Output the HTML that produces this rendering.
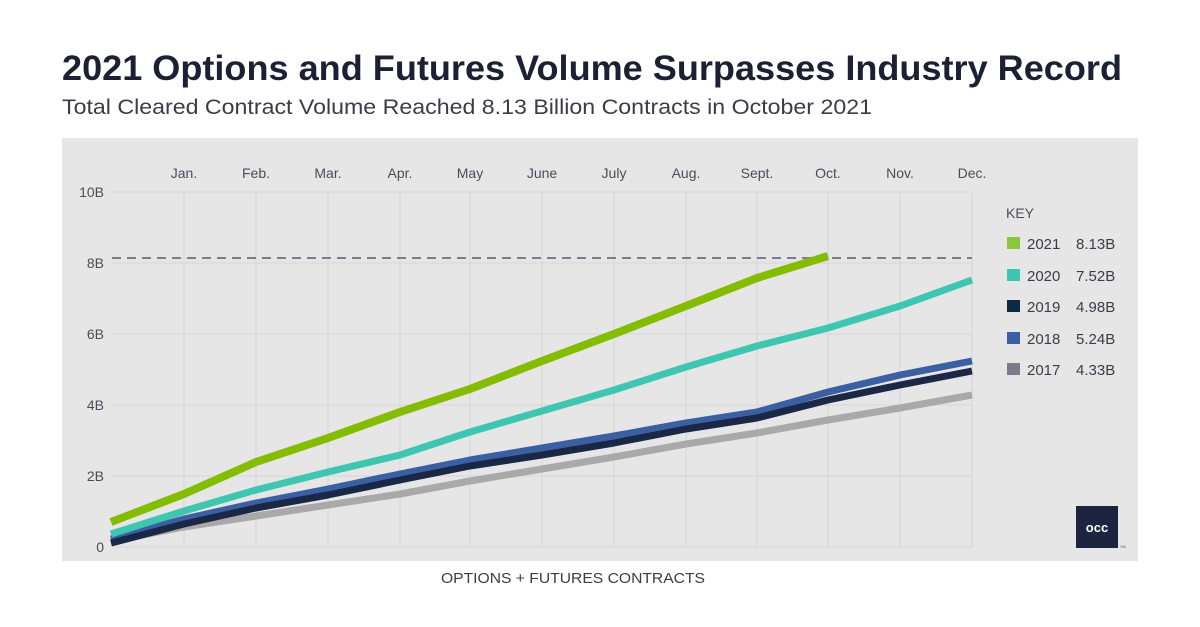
<!DOCTYPE html>
<html><head><meta charset="utf-8"><style>
html,body{margin:0;padding:0;background:#fff;width:1200px;height:627px;overflow:hidden}
svg{display:block}
text{font-family:"Liberation Sans",sans-serif}
</style></head><body>
<svg width="1200" height="627" viewBox="0 0 1200 627" xmlns="http://www.w3.org/2000/svg">
<rect width="1200" height="627" fill="#fff"/>
<text x="62" y="80" font-size="35" font-weight="bold" fill="#1c2033" textLength="1060" lengthAdjust="spacingAndGlyphs">2021 Options and Futures Volume Surpasses Industry Record</text>
<text x="62" y="114" font-size="21" fill="#3a3c4a" textLength="810" lengthAdjust="spacingAndGlyphs">Total Cleared Contract Volume Reached 8.13 Billion Contracts in October 2021</text>
<rect x="62" y="138" width="1076" height="423" fill="#e6e6e6"/>
<g stroke="#d6d6d6" stroke-width="1">
<line x1="112" y1="192" x2="972" y2="192"/><line x1="112" y1="263" x2="972" y2="263"/><line x1="112" y1="334" x2="972" y2="334"/><line x1="112" y1="405" x2="972" y2="405"/><line x1="112" y1="476" x2="972" y2="476"/><line x1="112" y1="547" x2="972" y2="547"/>
<line x1="184" y1="192" x2="184" y2="547"/><line x1="256" y1="192" x2="256" y2="547"/><line x1="328" y1="192" x2="328" y2="547"/><line x1="400" y1="192" x2="400" y2="547"/><line x1="470" y1="192" x2="470" y2="547"/><line x1="542" y1="192" x2="542" y2="547"/><line x1="614" y1="192" x2="614" y2="547"/><line x1="686" y1="192" x2="686" y2="547"/><line x1="757" y1="192" x2="757" y2="547"/><line x1="828" y1="192" x2="828" y2="547"/><line x1="900" y1="192" x2="900" y2="547"/><line x1="972" y1="192" x2="972" y2="547"/>
</g>
<g font-size="14" fill="#4a4c5a" text-anchor="middle">
<text x="184" y="178">Jan.</text><text x="256" y="178">Feb.</text><text x="328" y="178">Mar.</text><text x="400" y="178">Apr.</text><text x="470" y="178">May</text><text x="542" y="178">June</text><text x="614" y="178">July</text><text x="686" y="178">Aug.</text><text x="757" y="178">Sept.</text><text x="828" y="178">Oct.</text><text x="900" y="178">Nov.</text><text x="972" y="178">Dec.</text>
</g>
<g font-size="14" fill="#4a4c5a" text-anchor="end">
<text x="104" y="197">10B</text><text x="104" y="268">8B</text><text x="104" y="339">6B</text><text x="104" y="410">4B</text><text x="104" y="481">2B</text><text x="104" y="552">0</text>
</g>
<line x1="112" y1="258" x2="972" y2="258" stroke="#7a7c92" stroke-width="2" stroke-dasharray="9,6"/>
<g fill="none" stroke-linejoin="round" stroke-width="7">
<polyline stroke="#a9a9a9" points="111,541 184,527 256,516 328,505 400,494 470,481 542,469 614,457 686,444 757,433 828,420 900,408 972,395"/>
<polyline stroke="#3b5fa3" points="111,539 184,519 256,503 328,489 400,474 470,460 542,448 614,436 686,423 757,412 828,392 900,375 972,361"/>
<polyline stroke="#1a2745" points="111,543 184,524 256,508 328,495 400,480 470,466 542,455 614,443 686,429 757,418 828,400 900,385 972,371"/>
<polyline stroke="#3fc6b0" points="111,534 184,511 256,490 328,472 400,455 470,432 542,411 614,390 686,367 757,346 828,328 900,306 972,280"/>
<polyline stroke="#84bd00" stroke-width="8" points="111,522 184,494 256,462 328,438 400,412 470,389 542,361 614,334 686,306 757,278 828,256"/>
</g>
<text x="1006" y="218" font-size="14" fill="#4a4c5a">KEY</text>
<g font-size="15" fill="#3a3c4a">
<rect x="1007" y="237" width="13" height="12" fill="#8cc63f"/><text x="1027" y="249">2021</text><text x="1076" y="249">8.13B</text>
<rect x="1007" y="269" width="13" height="12" fill="#3fc6b0"/><text x="1027" y="281">2020</text><text x="1076" y="281">7.52B</text>
<rect x="1007" y="300" width="13" height="12" fill="#0e2a40"/><text x="1027" y="312">2019</text><text x="1076" y="312">4.98B</text>
<rect x="1007" y="332" width="13" height="12" fill="#3b5fa3"/><text x="1027" y="344">2018</text><text x="1076" y="344">5.24B</text>
<rect x="1007" y="363" width="13" height="12" fill="#7a7c8e"/><text x="1027" y="375">2017</text><text x="1076" y="375">4.33B</text>
</g>
<rect x="1076" y="506" width="42" height="42" fill="#1c2440"/>
<text x="1097" y="532" font-size="13" font-weight="bold" fill="#fff" text-anchor="middle">occ</text>
<text x="1120" y="548" font-size="4" fill="#666">SM</text>
<text x="573" y="583" font-size="15" fill="#3a3c4a" text-anchor="middle" textLength="264" lengthAdjust="spacingAndGlyphs">OPTIONS + FUTURES CONTRACTS</text>
</svg>
</body></html>
